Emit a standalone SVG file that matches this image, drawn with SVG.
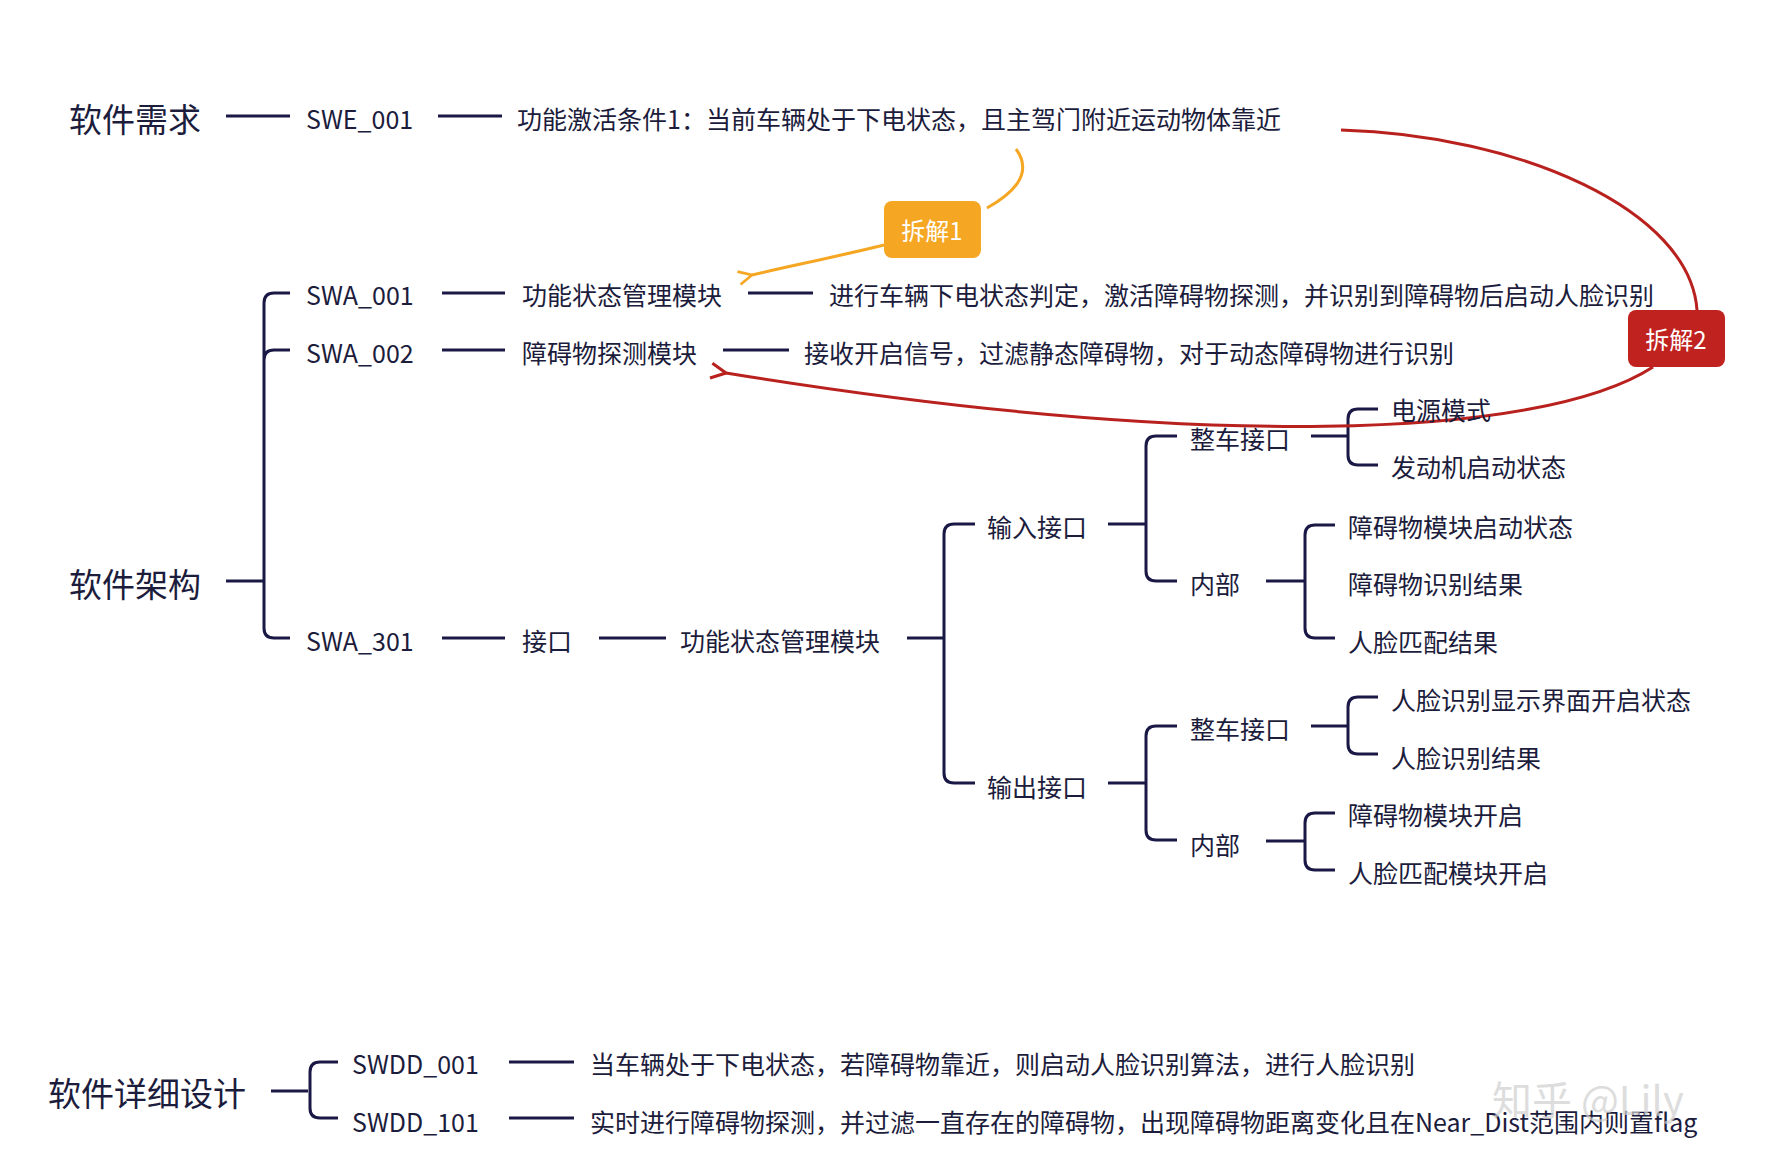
<svg xmlns="http://www.w3.org/2000/svg" width="1779" height="1175" viewBox="0 0 1779 1175">
<defs>
<style>
text{font-family:"Noto Sans CJK SC","Noto Sans",sans-serif;fill:#1c1c3c;dominant-baseline:central}
.t{font-size:25px}
.h{font-size:33px}
.c .n{stroke:#1a1845;stroke-width:3;fill:none}
.lbl{font-size:24px;fill:#fff}
.or{stroke:#f5a623;stroke-width:3;fill:none}
.rd{stroke:#b8211e;stroke-width:3;fill:none}
</style>
<marker id="ao" viewBox="0 0 12 12" refX="1" refY="6" markerWidth="16" markerHeight="16" orient="auto" markerUnits="userSpaceOnUse"><path d="M11,1 L1,6 L11,11" fill="none" stroke="#f5a623" stroke-width="2"/></marker>
<marker id="ar" viewBox="0 0 12 12" refX="1" refY="6" markerWidth="18" markerHeight="18" orient="auto" markerUnits="userSpaceOnUse"><path d="M11,1 L1,6 L11,11" fill="none" stroke="#b8211e" stroke-width="2"/></marker>
</defs>
<rect width="1779" height="1175" fill="#fff"/>
<g class="c" id="connectors">
<line class="n" x1="226" y1="116" x2="290" y2="116"/>
<line class="n" x1="438" y1="116" x2="502" y2="116"/>
<line class="n" x1="442" y1="293" x2="505" y2="293"/>
<line class="n" x1="748" y1="293" x2="813" y2="293"/>
<line class="n" x1="442" y1="350" x2="505" y2="350"/>
<line class="n" x1="723" y1="350" x2="789" y2="350"/>
<line class="n" x1="226" y1="581" x2="264" y2="581"/>
<path class="n" d="M290,293 H274 Q264,293 264,303 V628 Q264,638 274,638 H290 M264,360 Q264,350 274,350 H290"/>
<line class="n" x1="442" y1="638" x2="505" y2="638"/>
<line class="n" x1="599" y1="638" x2="666" y2="638"/>
<line class="n" x1="907" y1="638" x2="944" y2="638"/>
<path class="n" d="M975,524 H954 Q944,524 944,534 V773 Q944,783 954,783 H975"/>
<line class="n" x1="1108" y1="524" x2="1146" y2="524"/>
<path class="n" d="M1177,436 H1156 Q1146,436 1146,446 V571 Q1146,581 1156,581 H1177"/>
<line class="n" x1="1311" y1="436" x2="1348" y2="436"/>
<path class="n" d="M1378,409 H1358 Q1348,409 1348,419 V455 Q1348,465 1358,465 H1378"/>
<line class="n" x1="1266" y1="581" x2="1305" y2="581"/>
<path class="n" d="M1335,525 H1315 Q1305,525 1305,535 V628 Q1305,638 1315,638 H1335"/>
<line class="n" x1="1108" y1="783" x2="1146" y2="783"/>
<path class="n" d="M1177,726 H1156 Q1146,726 1146,736 V830 Q1146,840 1156,840 H1177"/>
<line class="n" x1="1311" y1="726" x2="1348" y2="726"/>
<path class="n" d="M1378,697 H1358 Q1348,697 1348,707 V744 Q1348,754 1358,754 H1378"/>
<line class="n" x1="1266" y1="841" x2="1305" y2="841"/>
<path class="n" d="M1335,813 H1315 Q1305,813 1305,823 V860 Q1305,870 1315,870 H1335"/>
<line class="n" x1="271" y1="1091" x2="308" y2="1091"/>
<path class="n" d="M338,1062 H320 Q310,1062 310,1072 V1108 Q310,1118 320,1118 H338"/>
<line class="n" x1="509" y1="1062" x2="574" y2="1062"/>
<line class="n" x1="509" y1="1118" x2="574" y2="1118"/>
<path class="or" d="M1016,149 C1035,175 1010,195 987,208"/>
<path class="or" d="M884,245 C840,256 790,266 752,275" marker-end="url(#ao)"/>
<path class="rd" d="M1341,130 C1520,135 1690,210 1697,310"/>
<path class="rd" d="M1653,367 C1540,440 1200,450 726,373" marker-end="url(#ar)"/>
</g>
<g id="n-req"><text class="h" x="69" y="118">软件需求</text></g>
<g id="n-swe001"><text class="t" x="306" y="118">SWE_001</text></g>
<g id="n-swe-desc"><text class="t" x="517" y="118">功能激活条件1：当前车辆处于下电状态，且主驾门附近运动物体靠近</text></g>
<g id="n-split1"><rect x="884" y="201" width="97" height="57" rx="8" fill="#f5a623"/><text class="lbl" x="932" y="229" text-anchor="middle">拆解1</text></g>
<g id="n-split2"><rect x="1628" y="310" width="97" height="57" rx="8" fill="#c0221f"/><text class="lbl" x="1676" y="338" text-anchor="middle">拆解2</text></g>
<g id="n-arch"><text class="h" x="69" y="583">软件架构</text></g>
<g id="n-swa001"><text class="t" x="306" y="294">SWA_001</text></g>
<g id="n-swa001-m"><text class="t" x="522" y="294">功能状态管理模块</text></g>
<g id="n-swa001-d"><text class="t" x="829" y="294">进行车辆下电状态判定，激活障碍物探测，并识别到障碍物后启动人脸识别</text></g>
<g id="n-swa002"><text class="t" x="306" y="352">SWA_002</text></g>
<g id="n-swa002-m"><text class="t" x="522" y="352">障碍物探测模块</text></g>
<g id="n-swa002-d"><text class="t" x="804" y="352">接收开启信号，过滤静态障碍物，对于动态障碍物进行识别</text></g>
<g id="n-swa301"><text class="t" x="306" y="640">SWA_301</text></g>
<g id="n-if"><text class="t" x="522" y="640">接口</text></g>
<g id="n-fsm"><text class="t" x="680" y="640">功能状态管理模块</text></g>
<g id="n-in"><text class="t" x="987" y="526">输入接口</text></g>
<g id="n-in-veh"><text class="t" x="1190" y="438">整车接口</text></g>
<g id="n-pwr"><text class="t" x="1391" y="409">电源模式</text></g>
<g id="n-eng"><text class="t" x="1391" y="466">发动机启动状态</text></g>
<g id="n-in-int"><text class="t" x="1190" y="583">内部</text></g>
<g id="n-i1"><text class="t" x="1348" y="526">障碍物模块启动状态</text></g>
<g id="n-i2"><text class="t" x="1348" y="583">障碍物识别结果</text></g>
<g id="n-i3"><text class="t" x="1348" y="641">人脸匹配结果</text></g>
<g id="n-out"><text class="t" x="987" y="786">输出接口</text></g>
<g id="n-out-veh"><text class="t" x="1190" y="728">整车接口</text></g>
<g id="n-o1"><text class="t" x="1391" y="699">人脸识别显示界面开启状态</text></g>
<g id="n-o2"><text class="t" x="1391" y="757">人脸识别结果</text></g>
<g id="n-out-int"><text class="t" x="1190" y="844">内部</text></g>
<g id="n-o3"><text class="t" x="1348" y="814">障碍物模块开启</text></g>
<g id="n-o4"><text class="t" x="1348" y="872">人脸匹配模块开启</text></g>
<g id="n-dd"><text class="h" x="48" y="1092">软件详细设计</text></g>
<g id="n-swdd001"><text class="t" x="352" y="1063">SWDD_001</text></g>
<g id="n-swdd001-d"><text class="t" x="590" y="1063">当车辆处于下电状态，若障碍物靠近，则启动人脸识别算法，进行人脸识别</text></g>
<g id="n-swdd101"><text class="t" x="352" y="1121">SWDD_101</text></g>
<g id="n-swdd101-d"><text class="t" x="590" y="1121">实时进行障碍物探测，并过滤一直存在的障碍物，出现障碍物距离变化且在Near_Dist范围内则置flag</text></g>
<text x="1492" y="1098" style="font-size:40px;fill:#d0d0d0;opacity:0.7">知乎 @Lily</text>
</svg>
